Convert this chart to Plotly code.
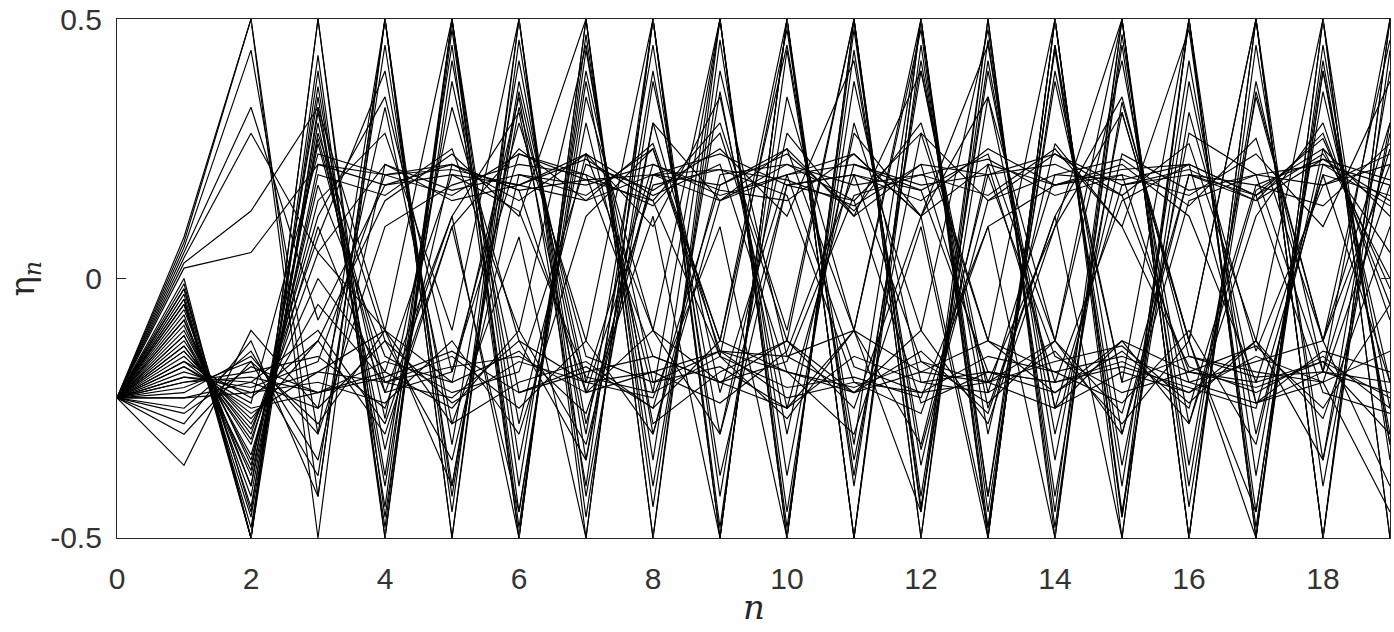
import plotly.graph_objects as go

# iterations n = 0 .. 19
steps = list(range(20))

# eta_n trajectories (one list per run)
runs = [
    [-0.23, 0.07, 0.50, -0.42, 0.50, -0.50, 0.46, -0.35, 0.30, -0.15, 0.48, -0.38, 0.40, -0.22, 0.20, 0.19, 0.22, 0.16, 0.27, -0.02],
    [-0.23, 0.06, 0.44, -0.30, 0.50, -0.45, 0.50, -0.50, 0.50, -0.42, 0.35, -0.10, 0.50, -0.48, 0.45, -0.30, 0.20, 0.18, 0.23, 0.15],
    [-0.23, 0.05, 0.33, -0.08, 0.18, 0.22, 0.15, 0.24, -0.10, 0.50, -0.50, 0.50, -0.44, 0.35, -0.12, 0.50, -0.50, 0.50, -0.40, 0.30],
    [-0.23, 0.04, 0.28, 0.05, 0.22, 0.17, 0.20, 0.16, 0.25, -0.12, 0.45, -0.32, 0.50, -0.50, 0.50, -0.45, 0.32, -0.14, 0.18, 0.22],
    [-0.23, 0.03, 0.13, 0.33, -0.10, 0.50, -0.40, 0.40, -0.20, -0.14, -0.15, -0.10, -0.18, -0.12, -0.22, -0.12, -0.28, 0.17, 0.25, 0.00],
    [-0.23, 0.02, 0.05, 0.22, 0.20, 0.21, 0.18, 0.23, 0.15, 0.30, -0.10, 0.50, -0.45, 0.50, -0.50, 0.47, -0.36, 0.35, -0.12, 0.22],
    [-0.23, -0.01, -0.50, 0.43, -0.50, 0.50, -0.48, 0.44, -0.30, 0.20, 0.22, 0.15, 0.28, -0.12, -0.18, -0.15, -0.20, -0.16, -0.12, -0.40],
    [-0.23, -0.03, -0.50, 0.33, -0.40, 0.38, -0.22, -0.18, -0.15, -0.20, -0.12, -0.25, 0.12, 0.45, -0.35, 0.32, -0.12, 0.50, -0.50, 0.50],
    [-0.23, -0.05, -0.46, 0.30, -0.33, 0.22, 0.17, 0.19, 0.20, 0.15, 0.25, 0.12, 0.40, -0.25, 0.12, 0.35, -0.15, -0.18, -0.20, -0.14],
    [-0.23, -0.07, -0.42, 0.27, -0.20, -0.17, -0.15, -0.22, -0.10, -0.30, 0.18, 0.20, 0.17, 0.24, -0.12, 0.42, -0.28, 0.12, 0.30, -0.08],
    [-0.23, -0.09, -0.38, 0.20, 0.16, 0.25, -0.10, 0.45, -0.35, 0.50, -0.50, 0.48, -0.42, 0.40, -0.25, 0.18, 0.21, 0.15, 0.28, -0.05],
    [-0.23, -0.10, -0.35, 0.15, 0.28, -0.10, 0.50, -0.46, 0.38, -0.22, 0.20, 0.22, 0.17, -0.18, -0.20, -0.16, -0.22, -0.12, -0.27, 0.10],
    [-0.23, -0.12, -0.32, 0.12, 0.35, -0.18, 0.30, -0.12, 0.50, -0.50, 0.50, -0.40, 0.42, -0.30, 0.26, 0.10, -0.17, -0.22, -0.15, -0.25],
    [-0.23, -0.13, -0.30, 0.08, 0.40, -0.32, 0.42, -0.28, 0.20, 0.18, 0.24, 0.13, 0.30, -0.12, 0.50, -0.50, 0.50, -0.38, 0.36, -0.20],
    [-0.23, -0.14, -0.28, -0.05, -0.20, -0.15, -0.25, -0.12, -0.30, 0.15, 0.22, 0.18, 0.20, 0.16, 0.25, 0.10, 0.48, -0.45, 0.40, -0.30],
    [-0.23, -0.15, -0.27, -0.12, -0.30, 0.10, -0.45, 0.38, -0.28, -0.18, -0.12, -0.22, -0.10, -0.28, 0.10, 0.32, -0.12, 0.50, -0.50, 0.50],
    [-0.23, -0.16, -0.26, -0.18, -0.10, -0.28, 0.08, -0.50, 0.50, -0.48, 0.44, -0.35, 0.28, 0.15, 0.20, 0.23, 0.14, 0.27, -0.12, 0.46],
    [-0.23, -0.17, -0.25, -0.22, -0.16, -0.20, -0.14, -0.26, 0.12, -0.50, 0.50, -0.50, 0.45, -0.42, 0.38, -0.20, -0.15, -0.19, -0.18, -0.22],
    [-0.23, -0.18, -0.22, -0.20, -0.24, -0.12, -0.30, 0.12, 0.25, -0.14, -0.18, -0.21, -0.16, -0.24, -0.12, -0.30, 0.15, 0.20, 0.18, 0.24],
    [-0.23, -0.19, -0.20, -0.25, -0.12, -0.35, 0.20, 0.18, 0.22, 0.17, 0.15, 0.24, 0.12, -0.48, 0.45, -0.40, 0.42, -0.30, 0.22, 0.18],
    [-0.23, -0.20, -0.18, -0.15, -0.25, 0.12, -0.50, 0.50, -0.50, 0.46, -0.38, 0.30, -0.10, 0.48, -0.45, 0.50, -0.50, 0.45, -0.35, 0.40],
    [-0.23, -0.21, -0.16, -0.28, -0.10, -0.40, 0.33, -0.15, -0.20, -0.17, -0.25, -0.10, -0.32, 0.20, 0.22, 0.16, 0.26, -0.12, 0.50, -0.50],
    [-0.23, -0.22, -0.15, -0.30, 0.10, 0.18, 0.22, 0.20, 0.14, 0.28, -0.12, 0.50, -0.50, 0.50, -0.48, 0.45, -0.40, 0.38, -0.18, -0.20],
    [-0.23, -0.23, -0.20, -0.10, -0.28, 0.10, 0.25, 0.15, 0.20, 0.21, 0.16, -0.20, -0.22, -0.15, -0.18, -0.24, -0.10, -0.32, 0.25, 0.12],
    [-0.23, -0.23, -0.22, -0.18, -0.20, -0.23, -0.12, -0.35, 0.40, -0.30, 0.28, 0.12, 0.22, 0.20, -0.15, -0.22, -0.18, -0.13, -0.25, -0.05],
    [-0.23, -0.25, -0.14, -0.35, 0.22, 0.15, 0.18, 0.24, 0.10, 0.35, -0.25, -0.15, -0.20, -0.22, -0.14, -0.28, -0.12, -0.45, 0.42, -0.32],
    [-0.23, -0.28, -0.12, -0.42, 0.50, -0.50, 0.50, -0.42, 0.30, 0.15, 0.20, -0.17, -0.22, -0.20, -0.16, -0.13, -0.24, -0.12, -0.35, 0.28],
    [-0.23, -0.30, -0.16, -0.38, 0.45, -0.40, 0.36, -0.22, 0.18, 0.21, 0.19, 0.14, 0.22, -0.20, -0.25, -0.12, -0.18, -0.21, -0.16, -0.30],
    [-0.23, -0.36, -0.10, -0.25, 0.33, -0.28, -0.20, -0.16, -0.25, -0.12, -0.18, -0.30, 0.10, -0.50, 0.50, -0.46, 0.50, -0.50, 0.50, -0.35],
    [-0.23, -0.02, -0.45, 0.37, -0.38, 0.45, -0.50, 0.50, -0.44, 0.40, -0.15, -0.22, -0.18, -0.20, -0.12, -0.26, 0.20, 0.16, 0.24, 0.05],
    [-0.23, -0.04, -0.48, 0.32, -0.27, 0.33, -0.12, -0.20, -0.18, -0.24, -0.14, 0.20, 0.15, 0.25, 0.18, 0.22, 0.12, -0.20, -0.16, -0.23],
    [-0.23, -0.06, -0.40, 0.22, 0.18, 0.20, 0.13, -0.19, -0.22, -0.15, -0.27, -0.10, -0.45, 0.42, -0.30, 0.24, 0.17, 0.20, 0.22, 0.14],
    [-0.23, -0.08, -0.36, 0.18, -0.15, -0.22, -0.18, 0.22, 0.17, 0.25, 0.12, 0.42, -0.33, 0.15, 0.24, 0.18, 0.20, 0.15, 0.23, 0.19],
    [-0.23, -0.11, -0.34, 0.10, -0.22, -0.18, 0.24, 0.19, 0.15, -0.15, -0.21, -0.19, -0.23, 0.10, -0.50, 0.50, -0.44, 0.36, -0.12, 0.30],
    [-0.23, -0.02, -0.50, 0.50, -0.50, 0.48, -0.45, 0.35, -0.10, -0.20, -0.16, 0.16, 0.20, 0.23, 0.16, 0.20, -0.20, -0.24, -0.14, -0.18],
    [-0.23, 0.00, -0.50, 0.40, -0.48, 0.50, -0.35, 0.30, -0.22, 0.50, -0.45, 0.38, -0.20, -0.18, -0.22, -0.14, -0.25, 0.18, 0.14, 0.26],
    [-0.23, -0.14, -0.29, 0.00, -0.18, 0.20, 0.18, 0.15, 0.26, -0.12, 0.50, -0.50, 0.50, -0.42, 0.44, -0.36, 0.28, 0.20, -0.18, 0.50],
    [-0.23, -0.19, -0.21, -0.16, 0.20, 0.22, 0.17, -0.22, -0.18, -0.14, -0.23, -0.20, -0.26, 0.10, 0.18, 0.21, 0.22, 0.16, -0.22, -0.26],
    [-0.23, -0.17, -0.24, 0.24, 0.20, 0.16, 0.24, 0.20, -0.15, -0.20, -0.25, 0.22, 0.18, 0.20, 0.24, 0.16, -0.18, -0.20, 0.20, -0.20],
    [-0.23, -0.26, -0.17, -0.22, -0.18, -0.25, -0.10, -0.32, 0.20, 0.24, 0.18, 0.15, -0.24, -0.18, -0.20, 0.15, 0.22, -0.24, -0.18, 0.25],
    [-0.23, 0.08, 0.50, -0.50, 0.50, -0.42, 0.38, -0.20, 0.22, 0.16, 0.20, 0.24, 0.12, 0.35, -0.25, -0.18, -0.22, -0.15, -0.20, -0.45],
    [-0.23, -0.05, -0.44, 0.28, -0.12, -0.24, -0.16, -0.20, -0.23, 0.10, -0.50, 0.50, -0.50, 0.46, -0.42, 0.34, -0.12, -0.50, 0.50, -0.50],
    [-0.23, -0.04, -0.50, 0.50, -0.46, 0.42, -0.28, 0.24, 0.16, 0.22, -0.18, -0.22, -0.14, -0.26, 0.12, -0.50, 0.50, -0.48, 0.40, -0.25],
    [-0.23, -0.08, -0.40, 0.35, -0.44, 0.50, -0.50, 0.47, -0.40, 0.36, -0.30, 0.28, 0.12, 0.22, -0.20, -0.17, -0.21, -0.25, 0.20, 0.16],
    [-0.23, -0.13, -0.31, 0.05, -0.10, -0.20, 0.35, -0.40, 0.50, -0.50, 0.50, -0.50, 0.50, -0.45, 0.40, -0.20, 0.50, -0.50, 0.45, -0.32],
    [-0.23, -0.16, -0.23, -0.12, 0.15, 0.24, 0.12, 0.50, -0.50, 0.50, -0.48, 0.44, -0.36, 0.22, 0.18, 0.20, 0.16, 0.24, 0.10, 0.38],
    [-0.23, -0.20, -0.19, -0.22, -0.19, -0.14, -0.22, -0.17, -0.25, 0.18, 0.25, -0.10, 0.48, -0.50, 0.50, -0.46, 0.38, -0.24, -0.20, 0.18],
    [-0.23, -0.11, -0.37, 0.26, -0.22, 0.12, 0.32, -0.30, 0.45, -0.38, 0.18, 0.20, -0.16, -0.20, 0.10, 0.50, -0.50, 0.50, -0.50, 0.44],
]

x_ticks = [0, 2, 4, 6, 8, 10, 12, 14, 16, 18]
y_ticks = [-0.5, 0, 0.5]
y_labels = ["-0.5", "0", "0.5"]

fig = go.Figure()
for r in runs:
    fig.add_trace(go.Scatter(x=steps, y=r, mode="lines",
                             line=dict(color="black", width=1.15),
                             showlegend=False, hoverinfo="skip"))

axis_style = dict(showline=True, linecolor="#262626", linewidth=1.3, mirror="ticks",
                  ticks="inside", ticklen=9, tickwidth=1.2, tickcolor="#262626",
                  showgrid=False, zeroline=False, ticklabeloverflow="allow",
                  tickfont=dict(family="Liberation Sans, Arial", size=30, color="#333333"))

fig.update_xaxes(range=[0, 19], tickvals=x_ticks, ticklabelstandoff=14, **axis_style)
fig.update_yaxes(range=[-0.5001, 0.5001], tickvals=y_ticks, ticktext=y_labels,
                 ticklabelstandoff=8, **axis_style)

fig.update_layout(
    width=1394, height=632,
    margin=dict(l=117, r=3, t=14, b=94),
    plot_bgcolor="white", paper_bgcolor="white",
    annotations=[
        dict(text="<i>n</i>", xref="paper", yref="paper", x=0.5, y=-0.132,
             showarrow=False, yanchor="middle",
             font=dict(family="DejaVu Serif, Liberation Serif", size=34, color="#262626")),
        dict(text="η<sub><i>n</i></sub>", xref="paper", yref="paper", x=-0.073, y=0.5,
             showarrow=False, textangle=-90, xanchor="center", yanchor="middle",
             font=dict(family="DejaVu Serif, Liberation Serif", size=34, color="#262626")),
    ],
)

# page has a default 8px body margin; drop it so the figure sits at (0, 0)
fig.write_html("out.html", config={"displayModeBar": False},
               post_script="document.body.style.margin='0';")
